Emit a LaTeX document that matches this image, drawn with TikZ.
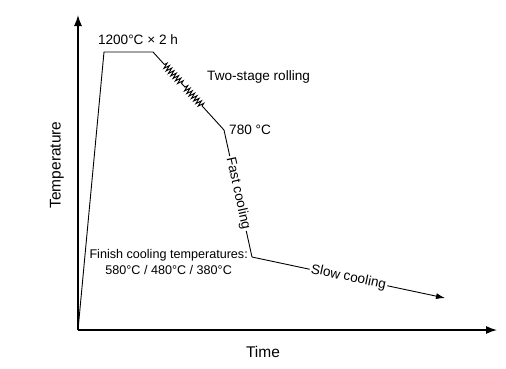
\documentclass[tikz,border=0pt]{standalone}
\usepackage{fontspec}
\setmainfont{Liberation Sans}
\usetikzlibrary{arrows.meta,calc,decorations.pathmorphing}

\tikzset{
  axis/.style={line width=1.3pt},
  path line/.style={line width=0.9pt},
  spring/.style={path line,decorate,decoration={zigzag,amplitude=3pt,segment length=3.4pt}},
  lbl/.style={font=\fontsize{13.6}{16}\selectfont,inner sep=1pt},
  small lbl/.style={font=\fontsize{12.6}{16}\selectfont,inner sep=1pt},
  axlbl/.style={font=\fontsize{15.5}{17}\selectfont,inner sep=1pt},
  online/.style={lbl,sloped,fill=white,inner sep=1.5pt}
}

\begin{document}
\begin{tikzpicture}[x=1pt,y=-1pt,>={Latex[length=11pt,width=8pt]}]
  \useasboundingbox (0,0) rectangle (506,368);
  % axes
  \coordinate (o) at (78,330);
  \coordinate (ytop) at (78,15);
  \coordinate (xend) at (497,330);
  \draw[axis,->] (o) -- (ytop);
  \draw[axis,->] (o) -- (xend);
  \node[axlbl] (time) at (263,352) {Time};
  \node[axlbl,rotate=90] (temp) at (57,165) {Temperature};
  % heat treatment path
  \coordinate (heat) at (104,52);
  \coordinate (hold) at (153,52);
  \coordinate (c780) at (224,130);
  \coordinate (fin) at (252,257);
  \coordinate (stop) at (445,298);
  \coordinate (s1a) at ($(hold)!0.16!(c780)$);
  \coordinate (s1b) at ($(hold)!0.41!(c780)$);
  \coordinate (s2a) at ($(hold)!0.45!(c780)$);
  \coordinate (s2b) at ($(hold)!0.70!(c780)$);
  \draw[path line] (o) -- (heat) -- (hold) -- (s1a);
  \draw[spring] (s1a) -- (s1b);
  \draw[path line] (s1b) -- (s2a);
  \draw[spring] (s2a) -- (s2b);
  \draw[path line] (s2b) -- (c780)
    -- node[online] (fast) {Fast cooling} (fin);
  \draw[path line,->,>={Latex[length=9pt,width=6pt]}] (fin)
    -- node[online] (slow) {Slow cooling} (stop);
  % labels
  \node[lbl] (soak) at (138,40) {1200°C × 2 h};
  \node[lbl,anchor=west] (roll) at (206,77) {Two-stage rolling};
  \node[lbl,anchor=west] (t780) at ($(c780)+(4,0)$) {780 °C};
  \node[small lbl,align=center,anchor=east] (finish) at ($(fin)+(-3,5)$)
    {Finish cooling temperatures:\\580°C / 480°C / 380°C};
\end{tikzpicture}
\end{document}
